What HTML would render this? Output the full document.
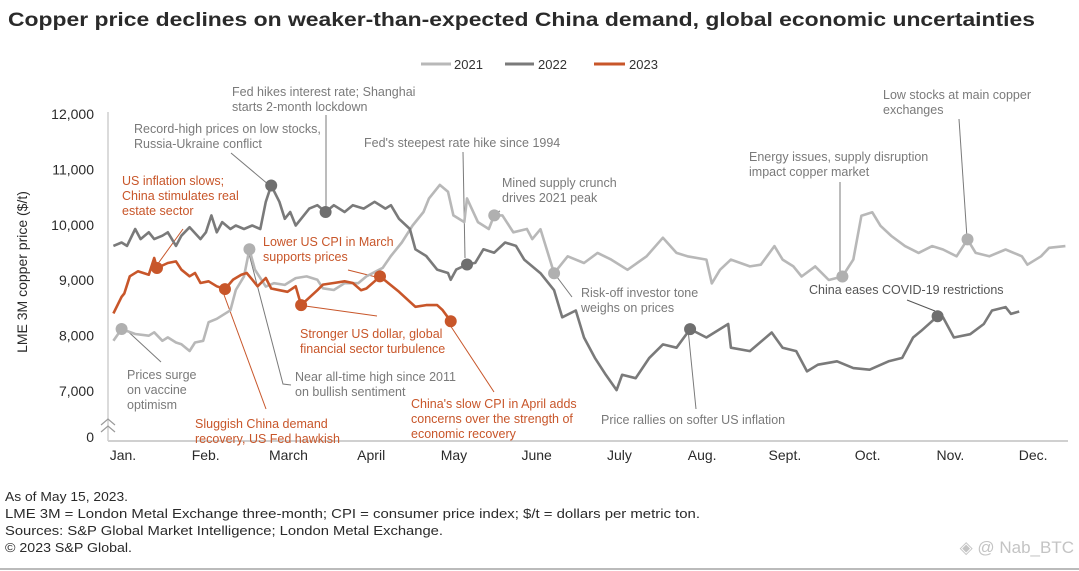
<!DOCTYPE html>
<html><head><meta charset="utf-8"><style>
html,body{margin:0;padding:0;background:#fff;}
svg{display:block;font-family:"Liberation Sans",sans-serif;}
</style></head><body>
<svg id="chart" width="1079" height="571" viewBox="0 0 1079 571" xmlns="http://www.w3.org/2000/svg">
<text x="8" y="26" font-size="19" font-weight="bold" fill="#2a2a2a" textLength="1027" lengthAdjust="spacingAndGlyphs">Copper price declines on weaker-than-expected China demand, global economic uncertainties</text>
<g font-size="13" fill="#333">
 <g><line x1="421" y1="64" x2="451" y2="64" stroke="#b8b8b8" stroke-width="3"/><text x="454" y="69">2021</text></g>
 <g><line x1="505" y1="64" x2="534" y2="64" stroke="#7a7a7a" stroke-width="3"/><text x="538" y="69">2022</text></g>
 <g><line x1="594" y1="64" x2="625" y2="64" stroke="#c8562a" stroke-width="3"/><text x="629" y="69">2023</text></g>
</g>
<text transform="translate(27,272) rotate(-90)" text-anchor="middle" font-size="14" fill="#2a2a2a">LME 3M copper price ($/t)</text>
<g id="axes"></g>
<g id="annotations" font-size="12.5"></g>
<g id="series"></g>
<g id="markers"></g>
<g font-size="13" fill="#2a2a2a">
 <text x="5" y="501" textLength="123" lengthAdjust="spacingAndGlyphs">As of May 15, 2023.</text>
 <text x="5" y="518" textLength="695" lengthAdjust="spacingAndGlyphs">LME 3M = London Metal Exchange three-month; CPI = consumer price index; $/t = dollars per metric ton.</text>
 <text x="5" y="535" textLength="438" lengthAdjust="spacingAndGlyphs">Sources: S&amp;P Global Market Intelligence; London Metal Exchange.</text>
 <text x="5" y="552" textLength="127" lengthAdjust="spacingAndGlyphs">© 2023 S&amp;P Global.</text>
</g>
<text x="1074" y="553" text-anchor="end" font-size="17" fill="#c4c4c4">◈ @ Nab_BTC</text>
<line x1="0" y1="569" x2="1079" y2="569" stroke="#bbb" stroke-width="2"/>
</svg>
<script>
const yTicks = [7000, 8000, 9000, 10000, 11000, 12000];
const yTickLabels = ["7,000", "8,000", "9,000", "10,000", "11,000", "12,000"];
const monthLabels = ["Jan.", "Feb.", "March", "April", "May", "June", "July", "Aug.", "Sept.", "Oct.", "Nov.", "Dec."];
const days2021 = [2,5,10,15,17,20,22,25,27,30,32,35,37,40,43,45,47,50,52,54,58,61,65,69,73,77,79,83,87,92,95,101,104,108,112,116,118,122,125,127,131,132,136,140,142,145,149,154,156,159,164,169,175,180,185,191,198,204,209,213,220,222,225,229,236,240,245,248,252,255,260,265,270,274,277,281,284,288,293,298,303,307,312,316,319,324,330,336,338,343,346,352];
const values2021 = [7906,8120,8028,7998,8059,7906,7967,7875,7845,7722,7875,7906,8242,8304,8395,8457,8824,9069,9558,9191,8885,8946,8916,9038,9069,9007,8854,8824,8946,8946,9069,9222,9436,9681,9987,10231,10476,10721,10598,10170,10048,10476,10048,9925,10170,10170,9864,9925,9742,9921,9126,9432,9310,9493,9371,9188,9432,9768,9493,9432,9371,8943,9188,9371,9249,9279,9615,9371,9249,9066,9249,9004,9066,9371,10164,10225,9982,9798,9615,9493,9615,9554,9432,9737,9493,9432,9554,9432,9279,9432,9585,9615];
const days2022 = [2,5,7,10,12,15,17,20,22,25,27,30,34,36,38,40,42,45,47,50,53,56,58,60,63,65,67,69,71,74,77,80,83,87,90,94,98,102,104,107,111,113,117,121,125,126,128,132,135,138,142,146,150,153,159,164,167,172,175,179,183,187,189,194,199,204,209,214,220,228,229,236,244,248,253,257,261,268,274,280,287,292,296,299,305,307,311,317,322,325,330,332,335];
const values2022 = [9620,9681,9620,9925,9742,9864,9742,9803,9864,9620,9803,9956,9742,9864,10170,9864,10048,9925,9987,9925,9987,9925,10415,10709,10415,10109,10231,9987,10109,10293,10354,10231,10354,10231,10354,10293,10415,10293,10354,10109,9925,9558,9436,9191,9130,9007,9191,9283,9313,9558,9497,9681,9620,9371,9126,8820,8331,8453,7965,7598,7292,7017,7292,7231,7598,7842,7781,8117,7965,8209,7781,7720,8056,7781,7720,7353,7475,7537,7414,7384,7537,7598,7965,8087,8350,8331,7965,8026,8209,8453,8514,8392,8435];
const days2023 = [2,5,6,8,11,15,17,18,22,25,27,30,32,34,37,40,43,46,49,51,53,55,58,60,63,66,69,71,73,77,79,83,87,90,93,95,98,100,103,107,111,113,117,121,123,126];
const values2023 = [8400,8700,8760,9070,9160,9100,9400,9220,9310,9340,9190,9070,9130,8950,8980,8890,8840,9010,9100,9130,9010,8890,9040,8850,8820,8790,8890,8550,8640,8820,8920,8950,8980,8950,8820,8850,8980,9070,8950,8790,8610,8520,8550,8550,8460,8260];
const markerDays2021 = [5, 52, 142, 164, 270, 316];
const markerDays2022 = [60, 80, 132, 214, 305];
const markerDays2023 = [18, 43, 71, 100, 126];

const NS = "http://www.w3.org/2000/svg";
const X0 = 108, PX_PER_DAY = 2.72;
const Y_BASE = 391, PX_PER_UNIT = 0.0554;
function xScale(d){ return X0 + d * PX_PER_DAY; }
function yScale(v){ return Y_BASE - (v - 7000) * PX_PER_UNIT; }
function mk(tag, attrs, parent){ const e = document.createElementNS(NS, tag); for (const k in attrs) e.setAttribute(k, attrs[k]); parent.appendChild(e); return e; }
function interp(days, vals, d){
  if (d <= days[0]) return vals[0];
  for (let i = 1; i < days.length; i++){ if (d <= days[i]){ const f = (d - days[i-1]) / (days[i] - days[i-1]); return vals[i-1] + f * (vals[i] - vals[i-1]); } }
  return vals[vals.length - 1];
}

const axes = document.getElementById("axes");
const yAxis = mk("line", {x1: X0, y1: 112, x2: X0, y2: 441, stroke: "#cfcfcf", "stroke-width": 1.5}, axes);


const xAxis = mk("line", {x1: X0, y1: 441, x2: 1068, y2: 441, stroke: "#d0d0d0", "stroke-width": 2}, axes);


const brk = mk("path", {d: "M101 425 l7 -6 l7 6 M101 432 l7 -6 l7 6", fill: "none", stroke: "#9a9a9a", "stroke-width": 1.2}, axes);


yTicks.forEach((v, i) => {
  const t = mk("text", {x: 94, y: yScale(v) + 5, "text-anchor": "end", "font-size": 14, fill: "#2a2a2a"}, axes);
  t.textContent = yTickLabels[i];
  
  
});
const zero = mk("text", {x: 94, y: 442, "text-anchor": "end", "font-size": 14, fill: "#2a2a2a"}, axes);
zero.textContent = "0";


monthLabels.forEach((m, i) => {
  const t = mk("text", {x: xScale(i * 30.42 + 5.5), y: 460, "text-anchor": "middle", "font-size": 14, fill: "#2a2a2a"}, axes);
  t.textContent = m;
  
  
});

const seriesG = document.getElementById("series");
function drawSeries(days, vals, color, name){
  const d = days.map((dd, i) => (i ? "L" : "M") + xScale(dd).toFixed(1) + " " + yScale(vals[i]).toFixed(1)).join(" ");
  const p = mk("path", {d: d, fill: "none", stroke: color, "stroke-width": 2.6, "stroke-linejoin": "round"}, seriesG);
  
  
}
drawSeries(days2021, values2021, "#b8b8b8", "line-2021");
drawSeries(days2022, values2022, "#7a7a7a", "line-2022");
drawSeries(days2023, values2023, "#c8562a", "line-2023");

const markersG = document.getElementById("markers");
function drawMarkers(mdays, days, vals, color, name){
  mdays.forEach(d => {
    const c = mk("circle", {cx: xScale(d), cy: yScale(interp(days, vals, d)), r: 6, fill: color}, markersG);
    
    
  });
}
drawMarkers(markerDays2021, days2021, values2021, "#b0b0b0", "marker-2021");
drawMarkers(markerDays2022, days2022, values2022, "#6f6f6f", "marker-2022");
drawMarkers(markerDays2023, days2023, values2023, "#c8562a", "marker-2023");

const annG = document.getElementById("annotations");
const G = "#7a7a7a", O = "#c8562a";
function ann(name, lines, x, y, color, leader){
  const g = mk("g", {}, annG);
  
  
  if (leader) mk("polyline", {points: leader, fill: "none", stroke: color, "stroke-width": 1}, g);
  lines.forEach((s, i) => { const t = mk("text", {x: x, y: y + i * 15 + 4, fill: color}, g); t.textContent = s; });
}
ann("annotation-fed-hikes", ["Fed hikes interest rate; Shanghai", "starts 2-month lockdown"], 232, 92, G, "326,115 326,206");
ann("annotation-record-high", ["Record-high prices on low stocks,", "Russia-Ukraine conflict"], 134, 129, G, "231,153 269,185");
ann("annotation-fed-steepest", ["Fed's steepest rate hike since 1994"], 364, 143, G, "463,152 465,258");
ann("annotation-us-inflation", ["US inflation slows;", "China stimulates real", "estate sector"], 122, 181, O, "183,229 157,265");
ann("annotation-mined-supply", ["Mined supply crunch", "drives 2021 peak"], 502, 183, G, "500,211 490,215");
ann("annotation-lower-cpi", ["Lower US CPI in March", "supports prices"], 263, 242, O, "348,270 376,277");
ann("annotation-stronger-dollar", ["Stronger US dollar, global", "financial sector turbulence"], 300, 334, O, "298,305 377,316");
ann("annotation-prices-surge", ["Prices surge", "on vaccine", "optimism"], 127, 375, G, "121,325 161,362");
ann("annotation-near-high", ["Near all-time high since 2011", "on bullish sentiment"], 295, 377, G, "248,250 283,384 291,385");
ann("annotation-sluggish-demand", ["Sluggish China demand", "recovery, US Fed hawkish"], 195, 424, O, "223,292 266,409");
ann("annotation-china-slow-cpi", ["China's slow CPI in April adds", "concerns over the strength of", "economic recovery"], 411, 404, O, "448,322 494,392");
ann("annotation-risk-off", ["Risk-off investor tone", "weighs on prices"], 581, 293, G, "557,277 572,297");
ann("annotation-price-rallies", ["Price rallies on softer US inflation"], 601, 420, G, "688,329 696,409");
ann("annotation-energy-issues", ["Energy issues, supply disruption", "impact copper market"], 749, 157, G, "840,182 840,272");
ann("annotation-low-stocks", ["Low stocks at main copper", "exchanges"], 883, 95, G, "959,119 967,238");
ann("annotation-china-eases", ["China eases COVID-19 restrictions"], 809, 290, "#555", "907,300 935,311");
</script>
</body></html>
